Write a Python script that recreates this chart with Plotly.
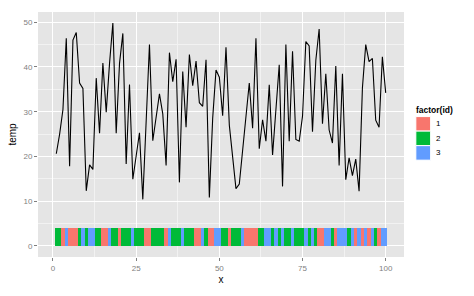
import plotly.graph_objects as go

x_vals = list(range(1, 101))
temp = [20.6, 25.0, 30.5, 46.4, 17.8, 46.0, 47.7, 36.4, 35.2, 12.3,
        18.1, 17.1, 37.5, 25.2, 40.9, 29.9, 40.8, 49.8, 25.2, 40.8,
        47.5, 18.3, 36.1, 14.9, 20.1, 25.3, 10.4, 27.5, 45.0, 23.5,
        28.8, 34.0, 29.5, 18.0, 43.2, 36.7, 41.7, 14.2, 39.0, 26.5,
        42.8, 35.8, 41.3, 32.0, 31.2, 41.6, 10.8, 28.5, 39.3, 37.7,
        29.1, 44.4, 27.0, 20.0, 12.8, 13.8, 21.6, 29.5, 36.4, 26.3,
        46.4, 21.7, 28.2, 23.4, 36.0, 20.3, 31.0, 40.5, 13.3, 45.0,
        23.4, 43.5, 23.8, 23.4, 29.0, 45.7, 44.7, 25.5, 41.5, 48.5,
        27.3, 38.5, 25.9, 23.0, 40.2, 18.0, 38.5, 14.8, 19.7, 15.7,
        19.4, 12.2, 35.3, 45.0, 41.2, 41.9, 28.1, 26.5, 42.3, 34.2]
ids = [2, 2, 1, 3, 1, 1, 1, 2, 3, 2, 3, 3, 2, 2, 1, 1, 3, 2, 2, 1,
       2, 2, 2, 3, 2, 2, 2, 1, 1, 2, 2, 2, 2, 1, 3, 2, 2, 2, 3, 2,
       2, 2, 1, 1, 3, 2, 1, 1, 3, 3, 2, 2, 1, 2, 2, 2, 3, 1, 1, 1,
       1, 2, 2, 3, 3, 2, 3, 2, 3, 2, 2, 3, 2, 2, 2, 3, 2, 3, 2, 1,
       1, 3, 3, 2, 1, 3, 3, 3, 2, 3, 1, 3, 1, 3, 1, 3, 2, 1, 3, 3]
tile_height = 4
id_levels = [1, 2, 3]
id_colors = {1: "#F8766D", 2: "#00BA38", 3: "#619CFF"}

fig = go.Figure()
for lv in id_levels:
    xs = [x for x, i in zip(x_vals, ids) if i == lv]
    fig.add_trace(go.Bar(x=xs, y=[tile_height] * len(xs), base=0, width=1,
                         marker=dict(color=id_colors[lv], line=dict(width=0)),
                         name=str(lv), showlegend=False, hoverinfo="skip"))
fig.add_trace(go.Scatter(x=x_vals, y=temp, mode="lines",
                         line=dict(color="black", width=1.1), showlegend=False))

ymax = max(temp)
yr = [0 - 0.05 * ymax, ymax + 0.05 * ymax]
xr = [0.5 - 5, 100.5 + 5]

FONT = "Liberation Sans, Arial"
axis_common = dict(showline=False, zeroline=False, gridcolor="white", gridwidth=1,
                   ticks="outside", ticklen=3, tickcolor="#7F7F7F", tickwidth=1,
                   tickfont=dict(family=FONT, size=8, color="#7F7F7F"),
                   minor=dict(showgrid=True, gridcolor="#F2F2F2", gridwidth=0.6, ticks=""))
fig.update_xaxes(range=xr, tickvals=[0, 25, 50, 75, 100],
                 minor_tickvals=[-12.5, 12.5, 37.5, 62.5, 87.5, 112.5],
                 title=dict(text="x", font=dict(family=FONT, size=10, color="black"), standoff=4),
                 **axis_common)
fig.update_yaxes(range=yr, tickvals=[0, 10, 20, 30, 40, 50],
                 minor_tickvals=[-5, 5, 15, 25, 35, 45, 55],
                 title=dict(text="temp", font=dict(family=FONT, size=10, color="black"), standoff=4),
                 **axis_common)

W, H = 474, 296
l, r, t, b = 33, 70, 12, 31
fig.update_layout(
    width=W, height=H,
    margin=dict(l=l, r=r, t=t, b=b),
    paper_bgcolor="white", plot_bgcolor="#E5E5E5",
    bargap=0, barmode="overlay",
)
pw, ph = W - l - r, H - t - b


def px2x(p):
    return (p - l) / pw


def py2y(p):
    return 1 - (p - t) / ph


key_top = 120
for j, lv in enumerate(id_levels):
    y0 = key_top + j * 15
    fig.add_shape(type="rect", xref="paper", yref="paper",
                  x0=px2x(416), x1=px2x(431), y0=py2y(y0 + 15), y1=py2y(y0),
                  fillcolor=id_colors[lv], line=dict(color="white", width=1))
    fig.add_annotation(text=str(lv), xref="paper", yref="paper",
                       x=px2x(434), y=py2y(y0 + 7.5), xanchor="left", yanchor="middle",
                       showarrow=False, font=dict(family=FONT, size=8, color="black"))
fig.add_annotation(text="<b>factor(id)</b>", xref="paper", yref="paper",
                   x=px2x(414), y=py2y(113), xanchor="left", yanchor="middle",
                   showarrow=False, font=dict(family=FONT, size=8.5, color="black"))
fig.write_html("out.html")
